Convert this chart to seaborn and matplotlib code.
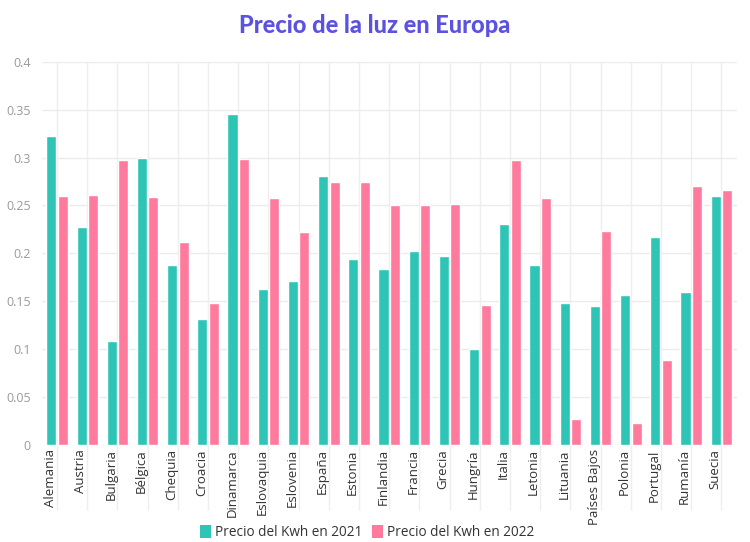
import pandas as pd
import numpy as np
import matplotlib
matplotlib.use("Agg")
import matplotlib.pyplot as plt
import seaborn as sns
from matplotlib.patches import Patch

paises = ["Alemania", "Austria", "Bulgaria", "Bélgica", "Chequia", "Croacia",
          "Dinamarca", "Eslovaquia", "Eslovenia", "España", "Estonia", "Finlandia",
          "Francia", "Grecia", "Hungría", "Italia", "Letonia", "Lituania",
          "Países Bajos", "Polonia", "Portugal", "Rumanía", "Suecia"]
precio_2021 = [0.323, 0.228, 0.109, 0.300, 0.188, 0.131, 0.345, 0.163, 0.171,
               0.281, 0.194, 0.184, 0.202, 0.197, 0.100, 0.231, 0.188, 0.148,
               0.145, 0.157, 0.217, 0.160, 0.260]
precio_2022 = [0.260, 0.261, 0.297, 0.259, 0.212, 0.148, 0.299, 0.258, 0.222,
               0.274, 0.275, 0.250, 0.250, 0.252, 0.146, 0.297, 0.258, 0.027,
               0.223, 0.023, 0.089, 0.270, 0.266]
series = ["Precio del Kwh en 2021", "Precio del Kwh en 2022"]
colores = ["#2ec4b6", "#ff7a9c"]

df = pd.DataFrame({"pais": paises, series[0]: precio_2021, series[1]: precio_2022})
df = df.melt(id_vars="pais", var_name="serie", value_name="precio")

sns.set_theme(style="white")
plt.rcParams["font.family"] = ["Open Sans", "DejaVu Sans"]

fig = plt.figure(figsize=(7.5, 5.42), dpi=100)
ax = fig.add_axes([0.056, 0.179, 0.926, 0.707])

sns.barplot(data=df, x="pais", y="precio", hue="serie", palette=colores,
            width=0.76, gap=0.12, saturation=1, ax=ax, legend=False)

ax.set_ylim(0, 0.4)
ax.set_xlim(-0.5, len(paises) - 0.5)
yt = np.round(np.arange(0, 0.401, 0.05), 2)
ax.set_yticks(yt)
ax.set_yticklabels([f"{v:g}" for v in yt])
ax.set_xlabel("")
ax.set_ylabel("")
for s in ax.spines.values():
    s.set_visible(False)

# lineas verticales que bajan hasta la zona de etiquetas
ax.grid(axis="y", color="#ececec", linewidth=1)
ax.grid(axis="x", color="#eeeeee", linewidth=1)
ax.set_axisbelow(True)
ax.tick_params(axis="y", length=0, labelsize=9, labelcolor="#9a9a9a", pad=8)
ax.tick_params(axis="x", bottom=True, direction="out", length=47, width=1,
               color="#eeeeee", labelsize=9.5, labelcolor="#333333", pad=-44)
for lab in ax.get_xticklabels():
    lab.set_rotation(90)
    lab.set_ha("right")
    lab.set_va("top")

fig.text(0.5, 0.953, "Precio de la luz en Europa", ha="center", va="center",
         fontsize=17, fontweight="black", color="#5b52e0", family=["Lato", "DejaVu Sans"])

handles = [Patch(facecolor=c, edgecolor="none") for c in colores]
fig.legend(handles, series, loc="center", bbox_to_anchor=(0.49, 0.017),
           ncol=2, frameon=False, fontsize=9.8, handlelength=0.8, handleheight=1.1,
           handletextpad=0.3, columnspacing=0.7, labelcolor="#333333")

fig.savefig("out.png", dpi=100)
